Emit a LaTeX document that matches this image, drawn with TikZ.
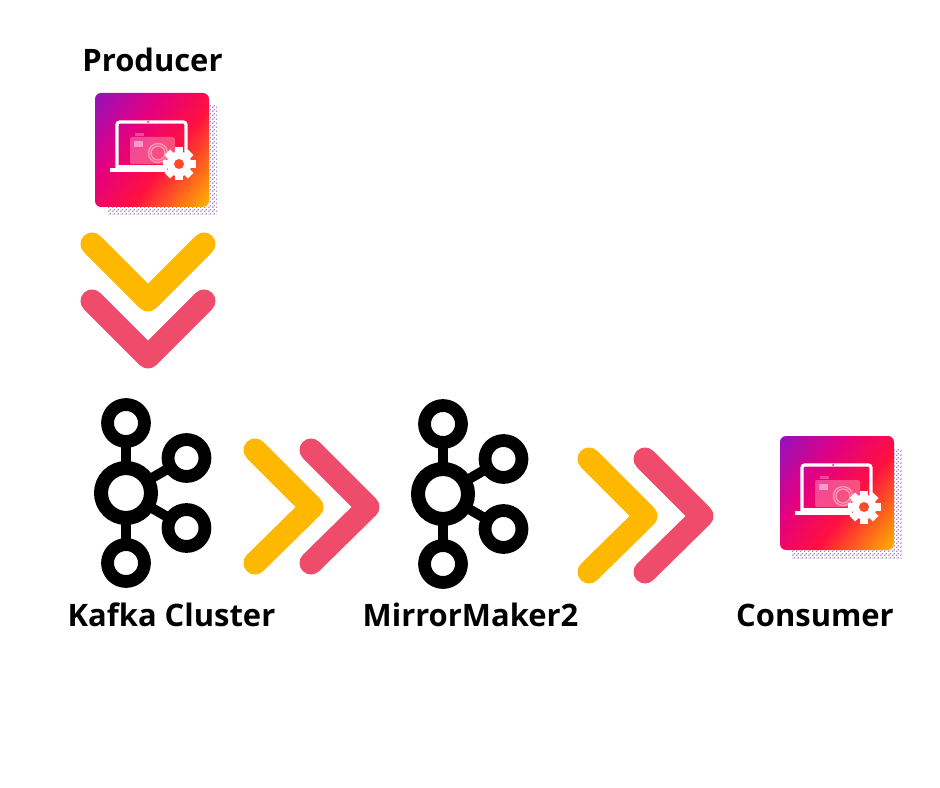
\documentclass[tikz,border=0pt]{standalone}
\usepackage{fontspec}
\setmainfont{Open Sans}
\usetikzlibrary{patterns}
\definecolor{chevY}{HTML}{FFB800}
\definecolor{chevP}{HTML}{EF4B6B}
\definecolor{shadowP}{HTML}{A98BC8}
\definecolor{igA}{HTML}{9A10B8}
\definecolor{igB}{HTML}{E4007F}
\definecolor{igC}{HTML}{FF1040}
\definecolor{igD}{HTML}{FF5A20}
\definecolor{igE}{HTML}{FFB000}
\definecolor{gearhole}{HTML}{FF4A28}
\pgfdeclarehorizontalshading{igshade}{100bp}{
 color(0bp)=(igA);
 color(17bp)=(igA);
 color(38bp)=(igB);
 color(58bp)=(igC);
 color(70bp)=(igD);
 color(84bp)=(igE);
 color(100bp)=(igE)}
\pgfdeclarepatternformonly{dith}{\pgfpointorigin}{\pgfpoint{3pt}{3pt}}{\pgfpoint{3pt}{3pt}}{
 \pgfpathrectangle{\pgfpointorigin}{\pgfpoint{1.2pt}{1.2pt}}
 \pgfpathrectangle{\pgfpoint{1.5pt}{1.5pt}}{\pgfpoint{1.2pt}{1.2pt}}
 \pgfusepath{fill}}
\tikzset{
 x=.75pt,y=-.75pt,
 label text/.style={font=\fontsize{23.2pt}{26pt}\selectfont\bfseries,text=black,anchor=base,inner sep=0pt},
 chevron/.style={line width=17.25pt,line cap=round,line join=round},
 hub/.style={circle,draw=black,fill=white,inner sep=0pt,minimum size=37.5pt,line width=10.5pt},
 leaf/.style={circle,draw=black,fill=white,inner sep=0pt,minimum size=27.7pt,line width=9.6pt},
 spoke/.style={draw=black,line width=7.5pt,shorten >=-1pt,shorten <=-1pt},
 app/.pic={
  \fill[pattern=dith,pattern color=shadowP] (12,12) rectangle (122,122);
  \fill[white] (0,0) rectangle (114,114);
  \path[rounded corners=4.5pt,shading=igshade,shading angle=-38] (0,0) rectangle (114,114);
  % camera
  \fill[white,opacity=.28,rounded corners=1.5pt] (35,44) rectangle (80,71);
  \fill[white,opacity=.28] (40,40) rectangle (49,43);
  \fill[white,opacity=.45] (39,48) rectangle (48,54);
  \draw[white,opacity=.45,line width=1pt] (63,60) circle[radius=9.5];
  \draw[white,opacity=.45,line width=1pt] (63,60) circle[radius=7];
  % laptop
  \draw[white,line width=2.4pt,rounded corners=2pt] (22,75) -- (22,29) -- (91,29) -- (91,62);
  \fill[white] (15,75) rectangle (72,79);
  \fill[white] (68,72) -- (68,75) -- (22,75) -- (22,72) -- cycle;
  \fill[igC] (53,29) circle[radius=1];
  % gear
  \foreach \a in {0,45,...,315}{
   \fill[white,rotate around={\a:(84,71)}] (80,54.5) rectangle (88,64);
  }
  \fill[white] (84,71) circle[radius=12.5];
  \fill[gearhole] (84,71) circle[radius=5];
 },
 kafka/.pic={
  \node[hub] (hubn) at (0,0) {};
  \node[leaf] (top) at (0,-70) {};
  \node[leaf] (bot) at (0,70) {};
  \node[leaf] (up) at (60.5,-35) {};
  \node[leaf] (low) at (60.5,35) {};
  \draw[spoke] (hubn) -- (top);
  \draw[spoke] (hubn) -- (bot);
  \draw[spoke] (hubn) -- (up);
  \draw[spoke] (hubn) -- (low);
 }
}
\begin{document}
\begin{tikzpicture}
\useasboundingbox[fill=white] (0,0) rectangle (940,788);
\node[label text] (producer) at (152.5,71.5) {Producer};
\pic (prodicon) at (95,93) {app};
% vertical chevrons
\coordinate (va1) at (92,244); \coordinate (va2) at (148,300); \coordinate (va3) at (204,244);
\coordinate (vb1) at (92,301); \coordinate (vb2) at (148,357); \coordinate (vb3) at (204,301);
\draw[chevron,chevP] (vb1) -- (vb2) -- (vb3);
\draw[chevron,chevY] (va1) -- (va2) -- (va3);
\pic (kc) at (126,493) {kafka};
\pic (mm) at (443,494) {kafka};
% first chevrons
\coordinate (ha1) at (255,450); \coordinate (ha2) at (312,507); \coordinate (ha3) at (255,563);
\coordinate (hb1) at (311,450); \coordinate (hb2) at (368,507); \coordinate (hb3) at (311,563);
\draw[chevron,chevP] (hb1) -- (hb2) -- (hb3);
\draw[chevron,chevY] (ha1) -- (ha2) -- (ha3);
% second chevrons
\coordinate (ia1) at (589,459); \coordinate (ia2) at (646,516); \coordinate (ia3) at (589,572);
\coordinate (ib1) at (645,459); \coordinate (ib2) at (702,516); \coordinate (ib3) at (645,572);
\draw[chevron,chevP] (ib1) -- (ib2) -- (ib3);
\draw[chevron,chevY] (ia1) -- (ia2) -- (ia3);
\pic (consicon) at (780,436) {app};
\node[label text] (kafkalabel) at (171.5,626) {Kafka Cluster};
\node[label text] (mirrorlabel) at (470.5,626) {MirrorMaker2};
\node[label text] (consumerlabel) at (815,626) {Consumer};
\end{tikzpicture}
\end{document}
